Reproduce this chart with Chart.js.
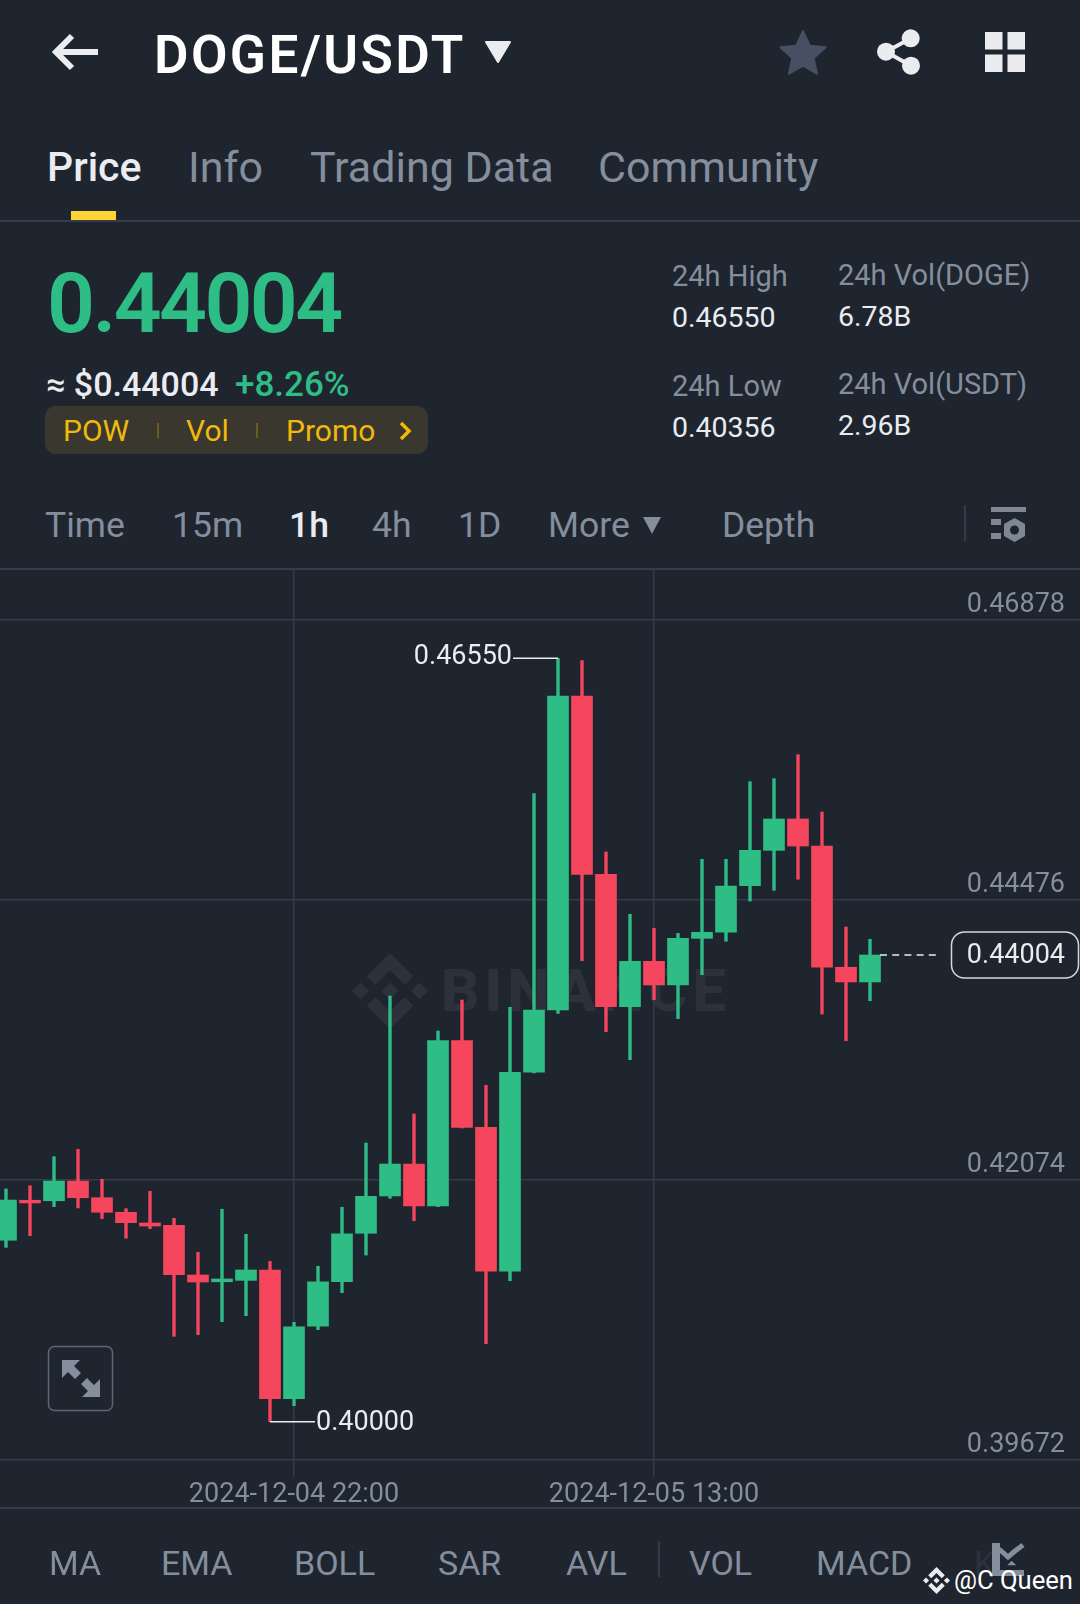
<!DOCTYPE html>
<html>
<head>
<meta charset="utf-8">
<title>DOGE/USDT</title>
<script src="https://cdn.jsdelivr.net/npm/chart.js@4/dist/chart.umd.js"></script>
<style>
  html, body { margin: 0; padding: 0; background: #1f252f; }
  body { position: relative; width: 1080px; height: 1604px; overflow: hidden; font-family: Roboto, sans-serif; color: #848e9c; }
  .t { position: absolute; white-space: nowrap; line-height: 1; transform: translateY(-50%); }
  .line { position: absolute; left: 0; width: 1080px; height: 2px; background: #353b47; }
  .tab { font-size: 43px; top: 167px; }
  .stat { font-size: 29px; }
  .val { font-size: 28.5px; color: #eaecef; }
  .pill { font-size: 30px; top: 431px; color: #f0b90b; }
  .range { font-size: 35.5px; top: 526px; }
  .ind { font-size: 34px; top: 1563px; }
  svg { position: absolute; }
  #chart { position: absolute; left: 0; top: 570px; }
</style>
</head>
<body>
<!-- header -->
<svg style="left:50px;top:32px" width="50" height="40" viewBox="0 0 50 40"><path d="M22 4L6 20l16 16M7 20h41" fill="none" stroke="#eaecef" stroke-width="6"/></svg>
<div class="t" style="left:154px;top:55px;font-size:53px;font-weight:600;color:#fff;letter-spacing:2.4px">DOGE/USDT</div>
<svg style="left:483px;top:40px" width="30" height="24" viewBox="0 0 30 24"><path d="M3 2h24L15 22z" fill="#eaecef" stroke="#eaecef" stroke-width="2" stroke-linejoin="round"/></svg>
<svg style="left:778px;top:28px" width="50" height="50" viewBox="0 0 24 24"><path d="M12 1.5l3.2 7 7.6.8-5.7 5.1 1.6 7.5-6.7-3.9-6.7 3.9 1.6-7.5L1.2 9.3l7.6-.8z" fill="#475062" stroke="#475062" stroke-linejoin="round"/></svg>
<svg style="left:875px;top:28px" width="48" height="50" viewBox="0 0 48 50"><path d="M36 10.3L11 23.7l25 14" fill="none" stroke="#eaecef" stroke-width="4"/><circle cx="35.7" cy="10.3" r="9" fill="#eaecef"/><circle cx="11" cy="23.7" r="9" fill="#eaecef"/><circle cx="36" cy="37.7" r="9" fill="#eaecef"/></svg>
<svg style="left:985px;top:32px" width="40" height="40"><rect width="17.5" height="17.5" fill="#eaecef"/><rect x="22.5" width="17.5" height="17.5" fill="#eaecef"/><rect y="22.5" width="17.5" height="17.5" fill="#eaecef"/><rect x="22.5" y="22.5" width="17.5" height="17.5" fill="#eaecef"/></svg>

<!-- tabs -->
<div class="t tab" style="left:47px;color:#eaecef;font-size:41px;font-weight:500">Price</div>
<div class="t tab" style="left:188px">Info</div>
<div class="t tab" style="left:310px">Trading Data</div>
<div class="t tab" style="left:598px">Community</div>
<div style="position:absolute;left:71px;top:211px;width:45px;height:9px;background:#fcd535"></div>
<div class="line" style="top:220px"></div>

<!-- price block -->
<div class="t" style="left:47px;top:304px;font-size:84px;font-weight:600;color:#2ebd85;letter-spacing:-2.6px">0.44004</div>
<div class="t" style="left:46px;top:384px;font-size:34px;font-weight:500;color:#eaecef">≈ $0.44004</div>
<div class="t" style="left:235px;top:384px;font-size:35px;font-weight:500;color:#2ebd85">+8.26%</div>
<div style="position:absolute;left:45px;top:406px;width:383px;height:48px;border-radius:11px;background:#3a372f"></div>
<div class="t pill" style="left:63px">POW</div>
<div class="t pill" style="left:186px">Vol</div>
<div class="t pill" style="left:286px">Promo</div>
<div style="position:absolute;left:157px;top:423px;width:2px;height:15px;background:#6d5c22"></div>
<div style="position:absolute;left:256px;top:423px;width:2px;height:15px;background:#6d5c22"></div>
<svg style="left:398px;top:420px" width="14" height="22" viewBox="0 0 14 22"><path d="M3 3l8 8-8 8" fill="none" stroke="#f0b90b" stroke-width="3.5"/></svg>

<div class="t stat" style="left:672px;top:276px">24h High</div>
<div class="t val" style="left:672px;top:318px">0.46550</div>
<div class="t stat" style="left:838px;top:275px">24h Vol(DOGE)</div>
<div class="t val" style="left:838px;top:317px">6.78B</div>
<div class="t stat" style="left:672px;top:386px">24h Low</div>
<div class="t val" style="left:672px;top:428px">0.40356</div>
<div class="t stat" style="left:838px;top:384px">24h Vol(USDT)</div>
<div class="t val" style="left:838px;top:426px">2.96B</div>

<!-- interval row -->
<div class="t range" style="left:45px">Time</div>
<div class="t range" style="left:172px">15m</div>
<div class="t range" style="left:289px;color:#eaecef;font-weight:500">1h</div>
<div class="t range" style="left:372px">4h</div>
<div class="t range" style="left:458px">1D</div>
<div class="t range" style="left:548px">More</div>
<svg style="left:641px;top:514px" width="22" height="22" viewBox="0 0 22 22"><path d="M2 3h18L11 20z" fill="#848e9c"/></svg>
<div class="t range" style="left:722px">Depth</div>
<div style="position:absolute;left:964px;top:505px;width:2px;height:36px;background:#353b47"></div>
<svg style="left:990px;top:506px" width="38" height="38" viewBox="0 0 38 38"><rect x="1" y="1" width="35" height="5" fill="#7f8794"/><rect x="1" y="13" width="10" height="6" fill="#7f8794"/><rect x="1" y="27" width="10" height="6" fill="#7f8794"/><path d="M24.5 12l10.5 6v12l-10.5 6-10.5-6V18z" fill="#7f8794"/><circle cx="24.5" cy="24" r="4.5" fill="#1f252f"/></svg>
<div class="line" style="top:568px"></div>

<!-- watermark behind the chart -->
<svg style="left:352px;top:953px" width="76" height="76" viewBox="0 0 126.61 126.61" fill="#2c313c"><path d="M38.73 53.2L63.32 28.62 87.93 53.22 102.23 38.91 63.32 0 24.42 38.9z"/><path d="M0 63.31L14.3 49l14.31 14.31-14.31 14.3z"/><path d="M38.73 73.42l24.59 24.59 24.6-24.6 14.31 14.29-38.9 38.91-38.91-38.88z"/><path d="M98.01 63.31l14.3-14.31 14.3 14.31-14.3 14.3z"/><path d="M77.83 63.3L63.32 48.78 48.81 63.28l14.51 14.52z"/></svg>
<div class="t" style="left:441px;top:991px;font-size:60px;font-weight:800;color:#2c313c;letter-spacing:5px">BINANCE</div>

<canvas id="chart" width="1080" height="935"></canvas>

<!-- expand button -->
<svg style="left:47px;top:1345px" width="68" height="67" viewBox="0 0 68 67"><rect x="1.5" y="1.5" width="64" height="64" rx="6" fill="none" stroke="#5e6673" stroke-width="1.5"/><path d="M15 15h18l-6 6 7 7-6 6-7-7-6 6z M53 52H35l6-6-7-7 6-6 7 7 6-6z" fill="#848e9c"/></svg>

<div class="line" style="top:1507px"></div>

<!-- indicators row -->
<div class="t ind" style="left:49px">MA</div>
<div class="t ind" style="left:161px">EMA</div>
<div class="t ind" style="left:294px">BOLL</div>
<div class="t ind" style="left:438px">SAR</div>
<div class="t ind" style="left:566px">AVL</div>
<div style="position:absolute;left:658px;top:1541px;width:2px;height:36px;background:#353b47"></div>
<div class="t ind" style="left:689px">VOL</div>
<div class="t ind" style="left:816px">MACD</div>
<div class="t ind" style="left:974px;color:#2c323d">K</div>
<svg style="left:990px;top:1543px" width="36" height="34" viewBox="0 0 36 34"><path d="M2 0h8v27h24v6H2z" fill="#848e9c"/><path d="M9 6l9 8 7-6 8-6" fill="none" stroke="#848e9c" stroke-width="5"/><path d="M21.7 17.7l4.5 4.6h-9z" fill="#848e9c"/></svg>

<!-- author tag -->
<svg style="left:923px;top:1567px" width="27" height="27" viewBox="0 0 126.61 126.61" fill="#eaecef"><path d="M38.73 53.2L63.32 28.62 87.93 53.22 102.23 38.91 63.32 0 24.42 38.9z"/><path d="M0 63.31L14.3 49l14.31 14.31-14.31 14.3z"/><path d="M38.73 73.42l24.59 24.59 24.6-24.6 14.31 14.29-38.9 38.91-38.91-38.88z"/><path d="M98.01 63.31l14.3-14.31 14.3 14.31-14.3 14.3z"/><path d="M77.83 63.3L63.32 48.78 48.81 63.28l14.51 14.52z"/></svg>
<div class="t" style="left:954px;top:1581px;font-size:25.6px;color:#fff">@C Queen</div>

<script>
// hourly candles, oldest first
const opens = [
  0.41557, 0.41900, 0.41896, 0.42065, 0.41922, 0.41797, 0.41705, 0.41685, 0.41259, 0.41201,
  0.41213, 0.41302, 0.40198, 0.40821, 0.41201, 0.41617, 0.41937, 0.42211, 0.41851, 0.43269,
  0.42526, 0.41291, 0.42998, 0.43532, 0.46226, 0.44696, 0.43561, 0.43950, 0.43747, 0.44147,
  0.44199, 0.44599, 0.44902, 0.45171, 0.44939, 0.43899, 0.43773,
];
const highs = [
  0.41997, 0.42025, 0.42274, 0.42337, 0.42080, 0.41828, 0.41977, 0.41745, 0.41454, 0.41823,
  0.41608, 0.41376, 0.40853, 0.41334, 0.41840, 0.42391, 0.43652, 0.42640, 0.43352, 0.43618,
  0.42886, 0.43555, 0.45388, 0.46550, 0.46529, 0.44888, 0.44353, 0.44233, 0.44190, 0.44825,
  0.44825, 0.45491, 0.45517, 0.45723, 0.45231, 0.44244, 0.44139,
];
const lows = [
  0.41496, 0.41596, 0.41845, 0.41834, 0.41742, 0.41574, 0.41656, 0.40733, 0.40747, 0.40858,
  0.40910, 0.40000, 0.40138, 0.40790, 0.41107, 0.41430, 0.41917, 0.41725, 0.41845, 0.42520,
  0.40670, 0.41210, 0.42992, 0.43504, 0.43955, 0.43346, 0.43106, 0.43621, 0.43458, 0.43835,
  0.44122, 0.44467, 0.44559, 0.44654, 0.43498, 0.43269, 0.43612,
];
const closes = [
  0.41902, 0.41877, 0.42065, 0.41922, 0.41797, 0.41708, 0.41679, 0.41261, 0.41199, 0.41225,
  0.41302, 0.40198, 0.40815, 0.41201, 0.41613, 0.41934, 0.42211, 0.41851, 0.43269, 0.42526,
  0.41291, 0.42998, 0.43532, 0.46226, 0.44696, 0.43561, 0.43950, 0.43747, 0.44147, 0.44199,
  0.44596, 0.44902, 0.45171, 0.44939, 0.43899, 0.43773, 0.44004,
];

const yTicks = [0.39672, 0.42074, 0.44476, 0.46878];
const xTickCandles = [12, 27];
const xTickLabels = ["2024-12-04 22:00", "2024-12-05 13:00"];

const highLabel = { candle: 23, price: 0.4655, text: "0.46550" };
const lowLabel = { candle: 11, price: 0.4, text: "0.40000" };
const lastPrice = { candle: 36, price: 0.44004, text: "0.44004" };

const UP = "#2ebd85";
const DOWN = "#f6465d";
const GRID = "#353b47";
const candleColors = closes.map((c, i) => (c >= opens[i] ? UP : DOWN));

// price labels and the last price box sit on top of the candles
const priceMarkers = {
  id: "priceMarkers",
  afterDatasetsDraw(chart) {
    const { ctx, scales } = chart;
    ctx.save();
    ctx.font = "27px Roboto";
    ctx.textBaseline = "middle";

    const hx = scales.x.getPixelForValue(highLabel.candle);
    const hy = scales.y.getPixelForValue(highLabel.price);
    ctx.strokeStyle = "#eaecef";
    ctx.lineWidth = 1.5;
    ctx.beginPath();
    ctx.moveTo(hx, hy);
    ctx.lineTo(hx - 45, hy);
    ctx.stroke();
    ctx.fillStyle = "#eaecef";
    ctx.textAlign = "right";
    ctx.fillText(highLabel.text, hx - 46, hy - 1);

    const lx = scales.x.getPixelForValue(lowLabel.candle);
    const ly = scales.y.getPixelForValue(lowLabel.price);
    ctx.beginPath();
    ctx.moveTo(lx, ly);
    ctx.lineTo(lx + 45, ly);
    ctx.stroke();
    ctx.textAlign = "left";
    ctx.fillText(lowLabel.text, lx + 46, ly + 2);

    const px = scales.x.getPixelForValue(lastPrice.candle);
    const py = scales.y.getPixelForValue(lastPrice.price);
    ctx.setLineDash([7, 5.2]);
    ctx.beginPath();
    ctx.moveTo(px + 10, py);
    ctx.lineTo(936, py);
    ctx.stroke();
    ctx.setLineDash([]);
    ctx.strokeStyle = "#d5d8dd";
    ctx.beginPath();
    ctx.roundRect(951.5, py - 23, 127, 46, 13);
    ctx.stroke();
    ctx.textAlign = "right";
    ctx.fillText(lastPrice.text, 1065, py + 1);
    ctx.restore();
  },
};

new Chart(document.getElementById("chart"), {
  type: "bar",
  data: {
    datasets: [
      {
        // wicks
        data: highs.map((h, i) => ({ x: i, y: [lows[i], h] })),
        backgroundColor: candleColors,
        barThickness: 2.7,
        order: 2,
      },
      {
        // bodies
        data: opens.map((o, i) => ({ x: i, y: [o, closes[i]] })),
        backgroundColor: candleColors,
        barThickness: 21,
        order: 1,
      },
    ],
  },
  options: {
    responsive: false,
    animation: false,
    layout: { padding: 0, autoPadding: false },
    plugins: { legend: { display: false }, tooltip: { enabled: false } },
    datasets: { bar: { grouped: false } },
    scales: {
      x: {
        type: "linear",
        offset: false,
        min: -0.25,
        max: 44.75,
        afterBuildTicks: (scale) => {
          scale.ticks = xTickCandles.map((value) => ({ value }));
        },
        afterFit: (scale) => {
          scale.height = 28;
        },
        grid: { color: GRID, lineWidth: 1.5, drawTicks: false, offset: false },
        border: { display: false },
        ticks: {
          color: "#848e9c",
          font: { family: "Roboto", size: 27 },
          padding: 2,
          maxRotation: 0,
          autoSkip: false,
          callback: (value) => xTickLabels[xTickCandles.indexOf(value)],
        },
      },
      y: {
        position: "right",
        min: 0.39526,
        max: 0.47307,
        afterBuildTicks: (scale) => {
          scale.ticks = yTicks.map((value) => ({ value }));
        },
        // mirrored labels reserve padding that would push the plot down
        afterFit: (scale) => {
          scale.width = 0;
          scale.paddingTop = 0;
          scale.paddingBottom = 0;
        },
        grid: { color: GRID, lineWidth: 1.5, drawTicks: false },
        border: { display: false },
        ticks: {
          mirror: true,
          padding: -15,
          labelOffset: -15,
          color: "#848e9c",
          font: { family: "Roboto", size: 27 },
          callback: (value) => value.toFixed(5),
        },
      },
    },
  },
  plugins: [priceMarkers],
});
</script>
</body>
</html>
